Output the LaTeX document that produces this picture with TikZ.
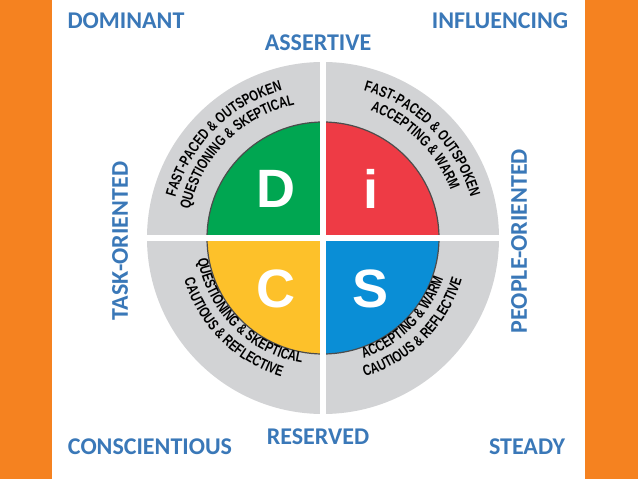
\documentclass[tikz,border=0pt]{standalone}
\usepackage{fontspec}
\setsansfont{Liberation Sans}
\newfontfamily\lab{Carlito}
\newfontfamily\cond[FakeStretch=0.75]{Liberation Sans Bold}
\usetikzlibrary{decorations.text,calc}
\definecolor{org}{HTML}{F58220}
\definecolor{gr}{HTML}{D2D3D5}
\definecolor{dg}{HTML}{00A651}
\definecolor{dr}{HTML}{EE3B45}
\definecolor{dy}{HTML}{FDC12A}
\definecolor{db}{HTML}{0A8ED6}
\definecolor{lb}{HTML}{3A78B8}
\tikzset{
  lbl/.style={font=\lab\bfseries\fontsize{24}{24}\selectfont, text=lb},
  big/.style={font=\sffamily\bfseries\fontsize{54}{54}\selectfont, text=white},
  arct/.style={decorate, decoration={text along path, text align=center,
     text={|\cond\fontsize{15}{15}\selectfont|#1}}}
}
\begin{document}
\begin{tikzpicture}[x=1pt,y=1pt]
\useasboundingbox (0,0) rectangle (638,479);
\fill[white] (0,0) rectangle (638,479);
\fill[org] (0,0) rectangle (52,479);
\fill[org] (585,0) rectangle (638,479);
\coordinate (c) at (323,241);
\fill[gr] (c) circle[radius=176];
\fill[dg] (c) -- ++(90:116) arc[start angle=90,end angle=180,radius=116] -- cycle;
\fill[dr] (c) -- ++(0:116) arc[start angle=0,end angle=90,radius=116] -- cycle;
\fill[dy] (c) -- ++(180:116) arc[start angle=180,end angle=270,radius=116] -- cycle;
\fill[db] (c) -- ++(270:116) arc[start angle=270,end angle=360,radius=116] -- cycle;
\draw[black!70, line width=1.2pt] (c) ++(0:116) arc[start angle=0,end angle=360,radius=116];
\draw[white, line width=6pt] ($(c)+(-180,0)$) -- ($(c)+(180,0)$);
\draw[white, line width=6pt] ($(c)+(0,-180)$) -- ($(c)+(0,180)$);
\node[big] (D) at (276,290) {D};
\node[big] (I) at (371,290) {i};
\node[big] (C) at (276,190) {C};
\node[big] (S) at (371,190) {S};
\path[arct={FAST-PACED {\&} OUTSPOKEN}] ($(c)+(178:153)$) arc[start angle=178,end angle=92,radius=153];
\path[arct={QUESTIONING {\&} SKEPTICAL}] ($(c)+(178:136)$) arc[start angle=178,end angle=92,radius=136];
\path[arct={FAST-PACED {\&} OUTSPOKEN}] ($(c)+(88:153)$) arc[start angle=88,end angle=2,radius=153];
\path[arct={ACCEPTING {\&} WARM}] ($(c)+(88:136)$) arc[start angle=88,end angle=2,radius=136];
\path[arct={QUESTIONING {\&} SKEPTICAL}] ($(c)+(182:127)$) arc[start angle=182,end angle=268,radius=127];
\path[arct={CAUTIOUS {\&} REFLECTIVE}] ($(c)+(182:145)$) arc[start angle=182,end angle=268,radius=145];
\path[arct={ACCEPTING {\&} WARM}] ($(c)+(272:127)$) arc[start angle=272,end angle=358,radius=127];
\path[arct={CAUTIOUS {\&} REFLECTIVE}] ($(c)+(272:145)$) arc[start angle=272,end angle=358,radius=145];
\node[lbl] (dom) at (126,458) {DOMINANT};
\node[lbl] (inf) at (500,458) {INFLUENCING};
\node[lbl] (ass) at (318,436) {ASSERTIVE};
\node[lbl, rotate=90] (task) at (120,238) {TASK-ORIENTED};
\node[lbl, rotate=90] (peo) at (519,238) {PEOPLE-ORIENTED};
\node[lbl] (con) at (150,32) {CONSCIENTIOUS};
\node[lbl] (res) at (318,42) {RESERVED};
\node[lbl] (ste) at (527,32) {STEADY};
\end{tikzpicture}
\end{document}
